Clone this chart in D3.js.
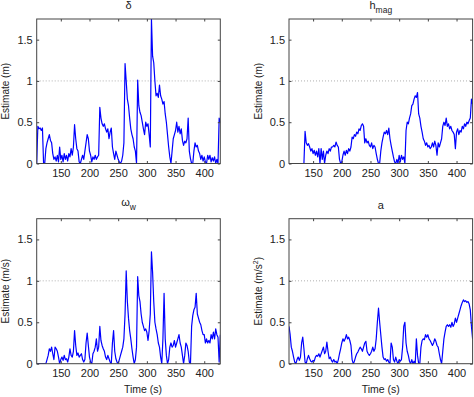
<!DOCTYPE html>
<html>
<head>
<meta charset="utf-8">
<script src="https://cdn.jsdelivr.net/npm/d3@7"></script>
<style>
  body { margin: 0; background: #fff; }
  text { font-family: "Liberation Sans", Arial, sans-serif; fill: #222; }
</style>
</head>
<body>
<script>
// Sampling of all four estimates: one value every 2 s from 108 s
const tStart = 108
const tStep = 2
const tDomain = [108, 428]
const yDomain = [0, 1.75]
const xTicks = [150, 200, 250, 300, 350, 400]
const yTicks = [0, 0.5, 1, 1.5]

const deltaEst = [0, 0.45, 0.42, 0.43, 0.40, 0.43, 0, 0, 0.18, 0.25,
  0.30, 0.35, 0.28, 0.25, 0.12, 0.05, 0.08, 0.03, 0.10, 0.02,
  0.20, 0.05, 0.10, 0.02, 0.12, 0.05, 0.10, 0.03, 0.12, 0.08,
  0.18, 0.10, 0.20, 0.47, 0.30, 0.18, 0.15, 0.02, 0, 0.05,
  0.10, 0.05, 0.15, 0.25, 0.35, 0.30, 0.15, 0.10, 0.02, 0.08,
  0.05, 0.10, 0.05, 0.08, 0.10, 0.68, 0.55, 0.48, 0.45, 0.48,
  0.42, 0.38, 0.42, 0.30, 0.38, 0.43, 0.20, 0.12, 0.05, 0.15,
  0.10, 0.05, 0.02, 0, 0.03, 0.10, 0.25, 1.21, 1.00, 0.78,
  0.70, 0.55, 0.42, 0.35, 0.30, 0.20, 0.15, 0, 1.01, 0.70,
  0.62, 0.58, 0.50, 0.42, 0.35, 0.50, 0.45, 0.48, 0.35, 0.20,
  1.75, 1.30, 1.22, 1.00, 0.82, 0.85, 0.80, 0.95, 0.82, 0.78,
  0.72, 0.75, 0.60, 0.50, 0.35, 0.20, 0.08, 0, 0.15, 0.30,
  0.35, 0.40, 0.50, 0.38, 0.45, 0.36, 0.42, 0.28, 0.22, 0.27,
  0.25, 0.30, 0.55, 0.15, 0.06, 0, 0, 0.15, 0.25, 0.20,
  0.22, 0.15, 0.12, 0.05, 0.10, 0.03, 0.08, 0.02, 0, 0.10,
  0.05, 0.10, 0.02, 0.07, 0.03, 0.08, 0, 0.05, 0, 0.55,
  0.50]

const hmagEst = [0, 0, 0, 0, 0, 0, 0, 0, 0, 0,
  0, 0, 0, 0, 0.39, 0.25, 0.22, 0.24, 0.20, 0.15,
  0.18, 0.12, 0.16, 0.10, 0.15, 0.08, 0.18, 0, 0.18, 0.05,
  0.15, 0, 0.10, 0.15, 0.12, 0.18, 0.15, 0.20, 0.20, 0.22,
  0.20, 0.26, 0.22, 0.20, 0.05, 0, 0.02, 0.10, 0.15, 0.10,
  0.16, 0.12, 0.18, 0.15, 0.20, 0.32, 0.30, 0.35, 0.33, 0.38,
  0.36, 0.42, 0.40, 0.46, 0.48, 0.45, 0.25, 0.30, 0.25, 0.27,
  0.22, 0.20, 0.25, 0.18, 0.22, 0.20, 0.12, 0.05, 0, 0,
  0.15, 0.25, 0.32, 0.38, 0.36, 0.40, 0.35, 0.43, 0.30, 0.22,
  0.15, 0.08, 0.02, 0, 0.05, 0, 0.10, 0.02, 0.10, 0.05,
  0.08, 0, 0.40, 0.50, 0.48, 0.55, 0.60, 0.70, 0.72, 0.78,
  0.82, 0.80, 0.86, 0.60, 0.55, 0.45, 0.38, 0.30, 0.27, 0.22,
  0.25, 0.20, 0.22, 0.18, 0.20, 0.25, 0.20, 0.27, 0.22, 0.10,
  0.25, 0.20, 0.25, 0.30, 0.45, 0.50, 0.46, 0.55, 0.45, 0.48,
  0.42, 0.45, 0.40, 0.38, 0.35, 0.18, 0.38, 0.42, 0.35, 0.40,
  0.38, 0.45, 0.42, 0.48, 0.45, 0.50, 0.48, 0.52, 0.55, 0.78,
  0.72]

const omegaEst = [0, 0, 0, 0, 0, 0, 0, 0, 0, 0.05,
  0.10, 0.18, 0.15, 0.20, 0.12, 0.05, 0.20, 0.18, 0.15, 0.08,
  0, 0.05, 0.08, 0.04, 0.10, 0.05, 0.06, 0.02, 0.08, 0.18,
  0.10, 0.08, 0.15, 0.40, 0.22, 0.10, 0.13, 0.08, 0.10, 0.12,
  0.05, 0.02, 0.05, 0.25, 0.37, 0.22, 0.08, 0.02, 0, 0.12,
  0.15, 0.20, 0.30, 0.15, 0.20, 0.45, 0.28, 0.22, 0.18, 0.15,
  0.08, 0.05, 0.10, 0.06, 0.02, 0, 0.25, 0.40, 0.15, 0.06,
  0.02, 0, 0.05, 0.10, 0.15, 0.20, 0.30, 0.60, 1.12, 0.75,
  0.55, 0.40, 0.30, 0.18, 0.08, 0, 0.05, 0.20, 1.05, 0.82,
  0.75, 0.60, 0.50, 0.45, 0.40, 0.42, 0.38, 0.28, 0.40, 0.60,
  1.35, 1.10, 0.75, 0.50, 0.42, 0.35, 0.25, 0.20, 0.08, 0,
  0.30, 0.85, 0.30, 0.10, 0, 0.05, 0.20, 0.25, 0.20, 0.22,
  0.28, 0.20, 0.25, 0.30, 0.35, 0.25, 0.20, 0.10, 0, 0.10,
  0.25, 0.22, 0.15, 0.02, 0, 0.45, 0.58, 0.65, 0.68, 0.85,
  0.60, 0.55, 0.50, 0.47, 0.40, 0.35, 0.35, 0.25, 0.30, 0.25,
  0.28, 0.25, 0.35, 0.30, 0.38, 0.30, 0.42, 0.35, 0.32, 0.02,
  0.35]

const accEst = [0.45, 0.35, 0.20, 0.15, 0.08, 0.02, 0, 0.05, 0.08, 0.04,
  0.08, 0.25, 0.32, 0.18, 0.02, 0, 0.06, 0.10, 0.06, 0.03,
  0.02, 0.04, 0.03, 0.08, 0.10, 0.09, 0.12, 0.08, 0.12, 0.16,
  0.20, 0.12, 0.15, 0.26, 0.15, 0.06, 0.08, 0.04, 0.02, 0.05,
  0.02, 0.03, 0, 0.05, 0.12, 0.18, 0.25, 0.30, 0.27, 0.30,
  0.35, 0.30, 0.32, 0.28, 0.22, 0.05, 0, 0.03, 0.08, 0.12,
  0.14, 0.17, 0.20, 0.18, 0.15, 0.20, 0.25, 0.27, 0.15, 0.12,
  0.10, 0.12, 0.15, 0.20, 0.15, 0.18, 0.30, 0.50, 0.67, 0.50,
  0.35, 0.20, 0.08, 0.05, 0.06, 0.03, 0.05, 0.02, 0, 0.25,
  0.20, 0.05, 0.02, 0.08, 0.03, 0, 0.05, 0.03, 0.05, 0.20,
  0.45, 0.50, 0.25, 0.15, 0.10, 0.03, 0, 0.05, 0, 0.03,
  0, 0.30, 0.10, 0, 0, 0.20, 0.28, 0.30, 0.29, 0.35,
  0.32, 0.35, 0.30, 0.28, 0.25, 0.22, 0.25, 0.30, 0.27, 0.22,
  0.20, 0.12, 0.05, 0, 0.15, 0.30, 0.38, 0.45, 0.47, 0.45,
  0.47, 0.44, 0.50, 0.45, 0.48, 0.55, 0.50, 0.55, 0.60, 0.65,
  0.70, 0.74, 0.77, 0.75, 0.76, 0.74, 0.75, 0.72, 0.65, 0.45,
  0.30]

//Declare SVG
const w = 474
const h = 397

const svg = d3.select('body')
  .append('svg')
  .attr('width', w)
  .attr('height', h)

// panel boxes (left, right, top, bottom) and their texts
const panels = [
  { data: deltaEst, x0: 36.7, x1: 220.3, y0: 19, y1: 163.5, title: 'δ', sub: null, ty: 9.3, ylab: 'Estimate (m)', sup: null, xlab: null },
  { data: hmagEst, x0: 289, x1: 472.6, y0: 19, y1: 163.5, title: 'h', sub: 'mag', ty: 9, ylab: 'Estimate (m)', sup: null, xlab: null },
  { data: omegaEst, x0: 36.7, x1: 220.3, y0: 218.7, y1: 363.7, title: 'ω', sub: 'w', ty: 205.5, ylab: 'Estimate (m/s)', sup: null, xlab: 143 },
  { data: accEst, x0: 289, x1: 472.6, y0: 218.7, y1: 363.7, title: 'a', sub: null, ty: 209, ylab: 'Estimate (m/s', sup: '2', xlab: 380.8 }
]

panels.forEach(function (p, k) {
  const x = d3.scaleLinear().domain(tDomain).range([p.x0, p.x1])
  const y = d3.scaleLinear().domain(yDomain).range([p.y1, p.y0])
  const g = svg.append('g')

  // clip for the trace
  g.append('clipPath')
    .attr('id', 'clip' + k)
    .append('rect')
    .attr('x', p.x0)
    .attr('y', p.y0)
    .attr('width', p.x1 - p.x0)
    .attr('height', p.y1 - p.y0)

  // dotted line at 1
  g.append('line')
    .attr('x1', p.x0)
    .attr('x2', p.x1)
    .attr('y1', y(1))
    .attr('y2', y(1))
    .attr('stroke', '#b0b0b0')
    .attr('stroke-width', 1)
    .attr('stroke-dasharray', '1,2')

  // the estimate
  const line = d3.line()
    .x((d, i) => x(tStart + i * tStep))
    .y(d => y(d))

  g.append('path')
    .datum(p.data)
    .attr('clip-path', 'url(#clip' + k + ')')
    .attr('fill', 'none')
    .attr('stroke', '#0000ff')
    .attr('stroke-width', 1.2)
    .attr('stroke-linejoin', 'round')
    .attr('d', line)

  // axes with inward ticks on all sides
  const styleAxis = function (sel) {
    sel.select('.domain').remove()
    sel.selectAll('line').attr('stroke', '#444')
    sel.selectAll('text')
      .attr('fill', '#222')
      .style('font-family', '"Liberation Sans", Arial, sans-serif')
      .style('font-size', '11px')
  }

  g.append('g')
    .attr('transform', 'translate(0,' + p.y1 + ')')
    .call(d3.axisBottom(x).tickValues(xTicks).tickSizeInner(-2.5).tickSizeOuter(0).tickPadding(5.5))
    .call(styleAxis)

  g.append('g')
    .attr('transform', 'translate(0,' + p.y0 + ')')
    .call(d3.axisTop(x).tickValues(xTicks).tickSizeInner(-2.5).tickSizeOuter(0).tickFormat(''))
    .call(styleAxis)

  g.append('g')
    .attr('transform', 'translate(' + p.x0 + ',0)')
    .call(d3.axisLeft(y).tickValues(yTicks).tickSizeInner(-2.5).tickSizeOuter(0).tickPadding(4).tickFormat(d3.format('~g')))
    .call(styleAxis)

  g.append('g')
    .attr('transform', 'translate(' + p.x1 + ',0)')
    .call(d3.axisRight(y).tickValues(yTicks).tickSizeInner(-2.5).tickSizeOuter(0).tickFormat(''))
    .call(styleAxis)

  // frame
  g.append('rect')
    .attr('x', p.x0)
    .attr('y', p.y0)
    .attr('width', p.x1 - p.x0)
    .attr('height', p.y1 - p.y0)
    .attr('fill', 'none')
    .attr('stroke', '#444')
    .attr('stroke-width', 1)

  // title
  const cx = (p.x0 + p.x1) / 2
  const title = g.append('text')
    .attr('x', cx)
    .attr('y', p.ty)
    .attr('text-anchor', 'middle')
    .style('font-size', '11px')
    .text(p.title)
  if (p.sub) {
    title.append('tspan')
      .attr('dy', 4)
      .style('font-size', '8.5px')
      .text(p.sub)
  }

  // y label
  const yl = g.append('text')
    .attr('transform', 'translate(' + (p.x0 - 27.5) + ',' + ((p.y0 + p.y1) / 2) + ') rotate(-90)')
    .attr('text-anchor', 'middle')
    .style('font-size', '10px')
    .text(p.ylab)
  if (p.sup) {
    yl.append('tspan').attr('dy', -4).style('font-size', '7px').text(p.sup)
    yl.append('tspan').attr('dy', 4).text(')')
  }

  // x label
  if (p.xlab) {
    g.append('text')
      .attr('x', p.xlab)
      .attr('y', 393)
      .attr('text-anchor', 'middle')
      .style('font-size', '10.5px')
      .text('Time (s)')
  }
})
</script>
</body>
</html>
